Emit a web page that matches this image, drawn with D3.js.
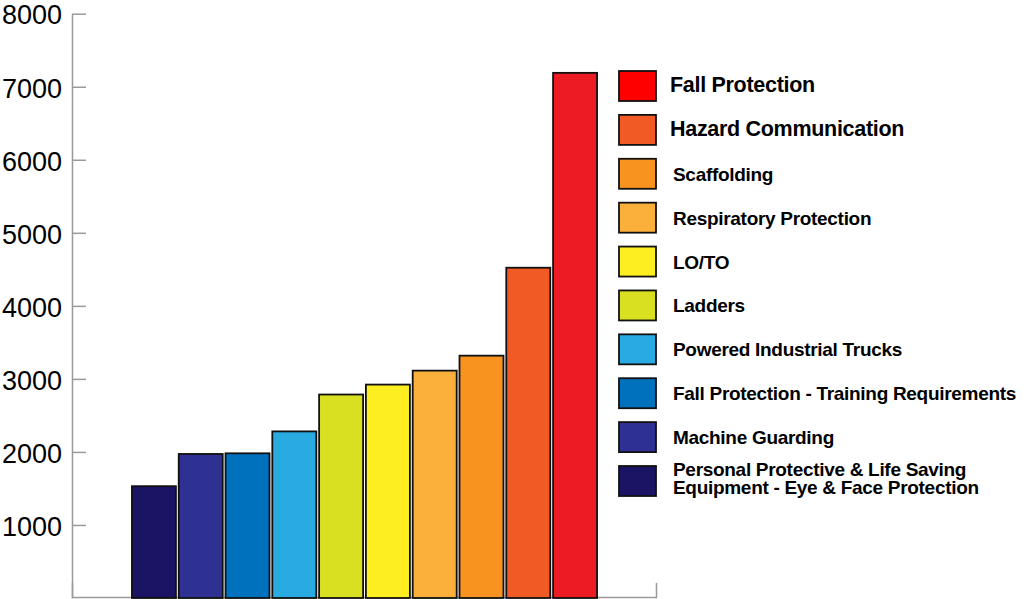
<!DOCTYPE html>
<html>
<head>
<meta charset="utf-8">
<script src="https://cdn.jsdelivr.net/npm/d3@7"></script>
<style>
  html, body { margin: 0; padding: 0; background: #fff; }
  svg { display: block; }
</style>
</head>
<body>
<div id="chart"></div>
<script>
// categories, left to right as the bars stand
var categories = [
    "Personal Protective & Life Saving Equipment - Eye & Face Protection",
    "Machine Guarding",
    "Fall Protection - Training Requirements",
    "Powered Industrial Trucks",
    "Ladders",
    "LO/TO",
    "Respiratory Protection",
    "Scaffolding",
    "Hazard Communication",
    "Fall Protection"
];
var values = [1531, 1972, 1981, 2281, 2786, 2922, 3113, 3318, 4522, 7190];
var barColors = ["#1b1464", "#2e3192", "#0071bc", "#29abe2", "#d9e021",
                 "#fcee21", "#fbb03b", "#f7931e", "#f15a24", "#ed1c24"];
var legendColors = ["#1b1464", "#2e3192", "#0071bc", "#29abe2", "#d9e021",
                    "#fcee21", "#fbb03b", "#f7931e", "#f15a24", "#ff0000"];
var yTicks = [1000, 2000, 3000, 4000, 5000, 6000, 7000, 8000];

var width = 1024, height = 599;

var svg = d3.select("#chart").append("svg")
    .attr("width", width)
    .attr("height", height);

var y = d3.scaleLinear()
    .domain([0, 8000])
    .range([598, 13.7]);

var x = d3.scaleBand()
    .domain(categories)
    .range([131, 598])
    .paddingInner(0.06)
    .paddingOuter(0.02);

var axisX = d3.scaleLinear().domain([0, 1]).range([72, 656]);

// y axis, ticks pointing into the plot
var yAxis = svg.append("g")
    .attr("transform", "translate(72,0)")
    .call(d3.axisLeft(y).tickValues(yTicks).tickFormat(d3.format("d"))
        .tickSize(-14).tickSizeOuter(0).tickPadding(10));
yAxis.select(".domain").attr("stroke", "#9a9a9a").attr("stroke-width", 1.5);
yAxis.selectAll(".tick line").attr("stroke", "#9a9a9a").attr("stroke-width", 1.5);
yAxis.selectAll(".tick text")
    .attr("fill", "#000")
    .attr("dy", "0.38em")
    .style("font-family", "'Liberation Sans', Arial, sans-serif")
    .style("font-size", "27px");

// baseline with a small upturned end tick
var xAxis = svg.append("g")
    .attr("transform", "translate(0,597)")
    .call(d3.axisBottom(axisX).tickValues([]).tickSizeOuter(-14));
xAxis.select(".domain").attr("stroke", "#9a9a9a").attr("stroke-width", 1.5);

// bars
svg.append("g")
    .selectAll("rect")
    .data(categories)
    .enter().append("rect")
    .attr("x", function(d) { return x(d); })
    .attr("y", function(d, i) { return y(values[i]); })
    .attr("width", x.bandwidth())
    .attr("height", function(d, i) { return y(0) - y(values[i]); })
    .style("fill", function(d, i) { return barColors[i]; })
    .style("stroke", "#111")
    .style("stroke-width", 1.8);

// legend, top to bottom = right to left
var legendOrder = d3.range(categories.length).reverse();
var ly = d3.scalePoint()
    .domain(legendOrder)
    .range([71, 466]);

var legend = svg.append("g")
    .selectAll("g")
    .data(legendOrder)
    .enter().append("g")
    .attr("transform", function(i) { return "translate(619," + ly(i) + ")"; });

legend.append("rect")
    .attr("width", 37)
    .attr("height", 30)
    .style("fill", function(i) { return legendColors[i]; })
    .style("stroke", "#111")
    .style("stroke-width", 1.8);

legend.append("text")
    .style("font-family", "'Liberation Sans', Arial, sans-serif")
    .style("font-weight", "bold")
    .style("letter-spacing", "-0.3px")
    .attr("fill", "#000")
    .each(function(i, k) {
        var t = d3.select(this);
        var name = categories[i];
        // the two top entries are set a little larger
        var big = k < 2;
        var tx = big ? 51 : 54;
        t.style("font-size", big ? "21.5px" : "19px");
        if (name.indexOf(" - Eye") > 0) {
            var parts = ["Personal Protective & Life Saving", "Equipment - Eye & Face Protection"];
            t.append("tspan").attr("x", tx).attr("y", 10).text(parts[0]);
            t.append("tspan").attr("x", tx).attr("y", 28).text(parts[1]);
        } else {
            t.attr("x", tx).attr("y", big ? 21 : 22).text(name);
        }
    });
</script>
</body>
</html>
